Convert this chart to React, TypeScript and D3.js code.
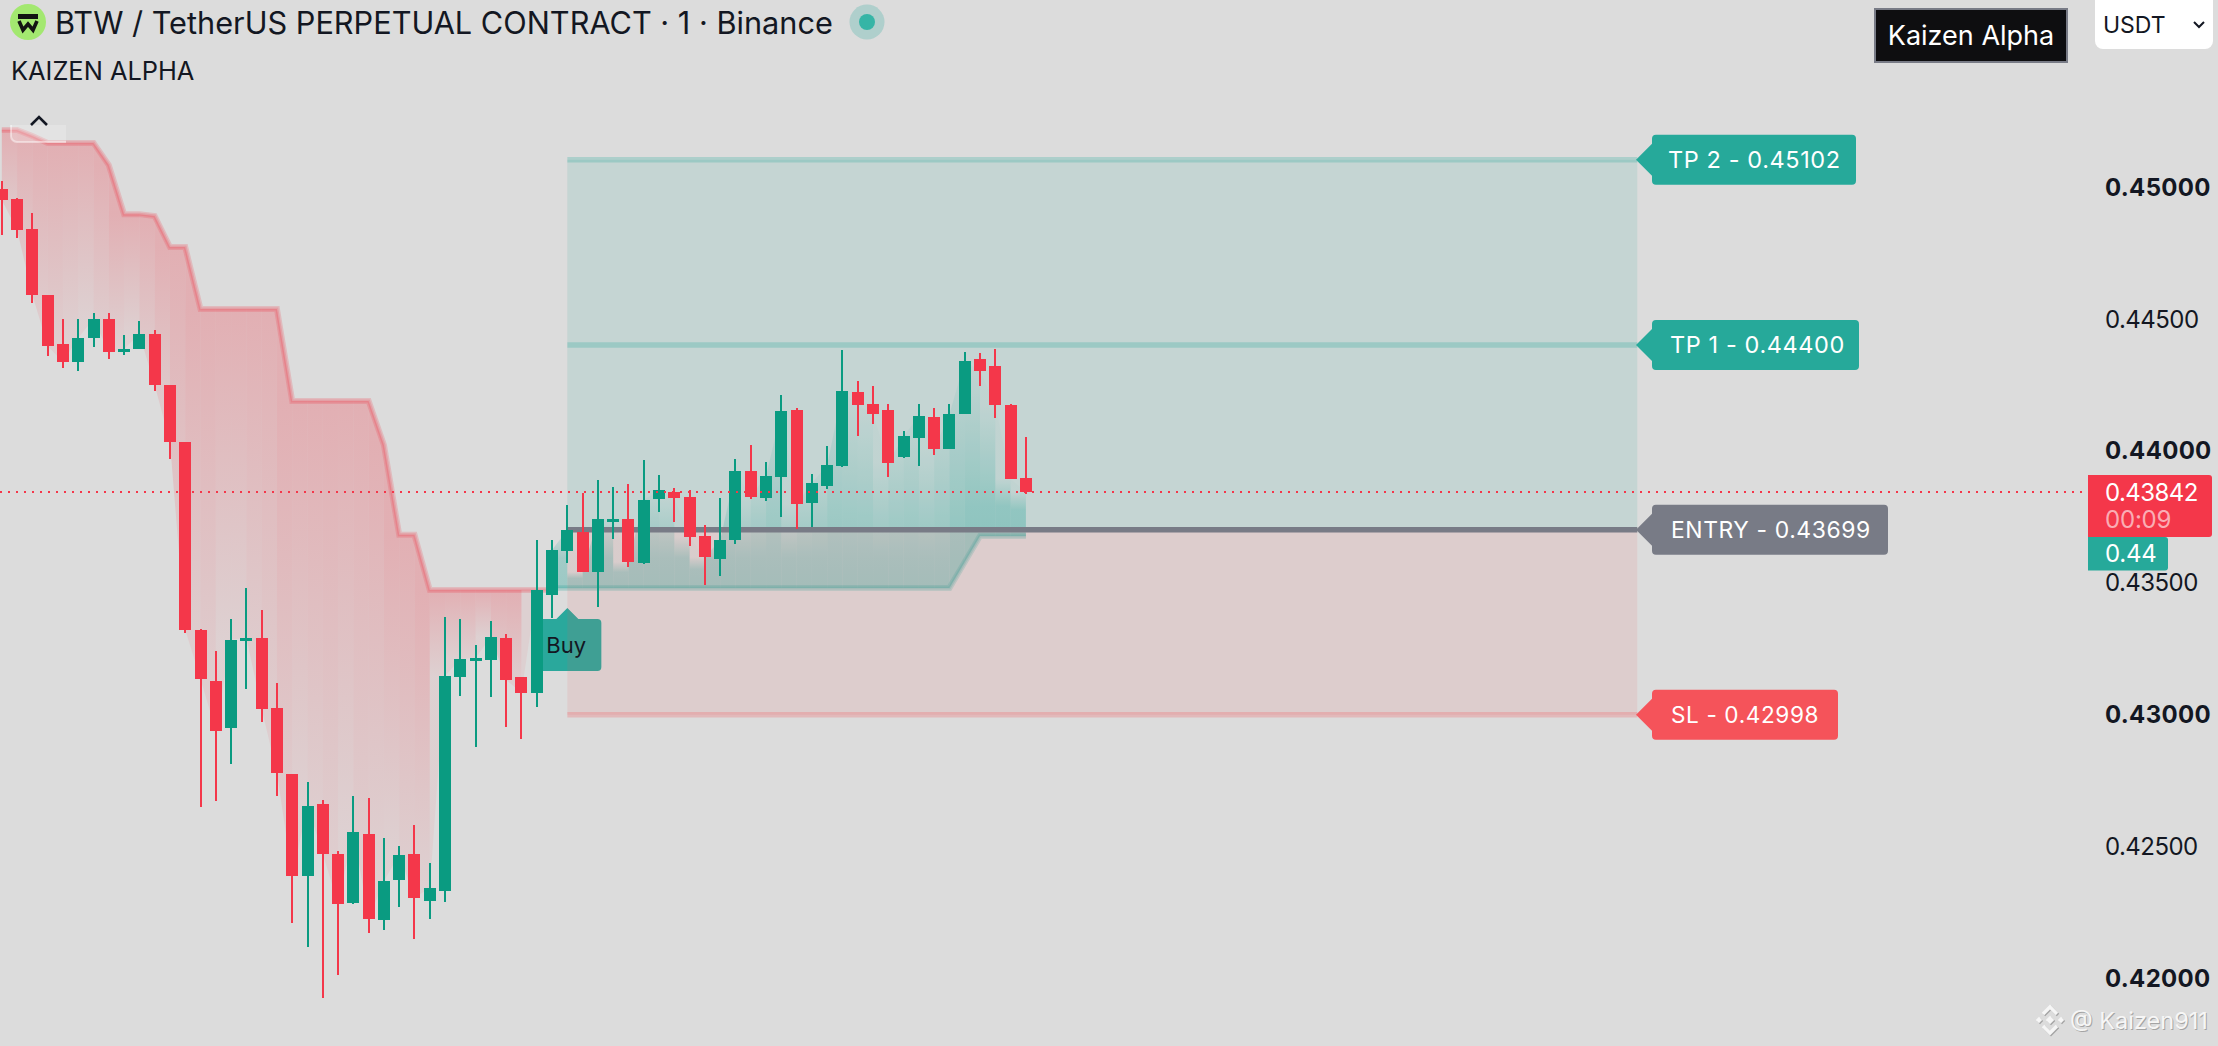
import { useEffect, useRef } from 'react';
import * as d3 from 'd3';

const opens = [
    0.44991, 0.44953, 0.4484, 0.44589, 0.44404, 0.44335, 0.44426, 0.44498, 0.44377, 0.44385,
    0.44442, 0.44248, 0.44032, 0.4332, 0.43126, 0.42948, 0.43278, 0.43289, 0.43024, 0.42774,
    0.42387, 0.4266, 0.4247, 0.42285, 0.42546, 0.4222, 0.42372, 0.4247, 0.42292, 0.4233,
    0.43141, 0.43206, 0.43206, 0.43289, 0.43141, 0.43081, 0.43452, 0.43619, 0.43691, 0.43539,
    0.43729, 0.4374, 0.43574, 0.43816, 0.43843, 0.43824, 0.43676, 0.43589, 0.43661, 0.43922,
    0.4382, 0.439, 0.44153, 0.43801, 0.43865, 0.43941, 0.44222, 0.44176, 0.44153, 0.43975,
    0.44047, 0.44127, 0.44006, 0.44138, 0.44347, 0.4432, 0.44172, 0.43896,
];
const highs = [
    0.45022, 0.44957, 0.449, 0.44589, 0.44498, 0.44498, 0.44521, 0.44521, 0.44438, 0.44491,
    0.44457, 0.44248, 0.44032, 0.43323, 0.4324, 0.43361, 0.43479, 0.43395, 0.43118, 0.42774,
    0.42743, 0.42675, 0.42482, 0.4269, 0.42683, 0.42531, 0.42501, 0.4258, 0.42436, 0.43369,
    0.43361, 0.43263, 0.43354, 0.43304, 0.43141, 0.43661, 0.43661, 0.43793, 0.43839, 0.43888,
    0.43862, 0.43873, 0.43964, 0.43907, 0.43858, 0.4385, 0.43718, 0.4382, 0.43968, 0.44021,
    0.43956, 0.4421, 0.44161, 0.43911, 0.44017, 0.44381, 0.44263, 0.44244, 0.44176, 0.44074,
    0.44176, 0.44161, 0.44176, 0.44373, 0.4437, 0.44385, 0.44176, 0.44051,
];
const lows = [
    0.44817, 0.44805, 0.44559, 0.44358, 0.44313, 0.44301, 0.44392, 0.44347, 0.44362, 0.44385,
    0.44226, 0.43968, 0.43308, 0.42648, 0.42671, 0.42811, 0.43096, 0.42971, 0.4269, 0.42209,
    0.42118, 0.41924, 0.42012, 0.42281, 0.42171, 0.42182, 0.42269, 0.42148, 0.42224, 0.42288,
    0.43069, 0.42876, 0.43065, 0.42952, 0.42906, 0.43028, 0.43365, 0.43574, 0.43539, 0.43407,
    0.43665, 0.43558, 0.4357, 0.43767, 0.43729, 0.43638, 0.4349, 0.43524, 0.43646, 0.43816,
    0.43808, 0.43748, 0.43702, 0.4371, 0.43854, 0.43937, 0.44055, 0.441, 0.439, 0.43972,
    0.43941, 0.43983, 0.44006, 0.44138, 0.44244, 0.44123, 0.43892, 0.43835,
];
const closes = [
    0.4495, 0.44836, 0.44589, 0.44396, 0.44335, 0.44426, 0.44498, 0.44373, 0.44385, 0.44442,
    0.44248, 0.44032, 0.4332, 0.43134, 0.42937, 0.43282, 0.43289, 0.4302, 0.42777, 0.42387,
    0.42652, 0.4247, 0.42281, 0.42554, 0.42224, 0.42368, 0.42467, 0.42304, 0.42341, 0.43145,
    0.43209, 0.43213, 0.43293, 0.4313, 0.43081, 0.43471, 0.43623, 0.43699, 0.43539, 0.4374,
    0.4374, 0.43577, 0.43812, 0.4385, 0.4382, 0.43672, 0.43596, 0.43661, 0.43922, 0.43824,
    0.43903, 0.4415, 0.43797, 0.43877, 0.43945, 0.44226, 0.44172, 0.44138, 0.43953, 0.44055,
    0.44131, 0.44006, 0.44138, 0.44339, 0.44301, 0.44172, 0.43892, 0.43842,
];

// trailing stop, red leg starts at candle 0, green leg at candle 36
const stopDown = [
    0.45215, 0.45215, 0.45192, 0.45166, 0.45166, 0.45166, 0.45166, 0.45082, 0.44896, 0.44896,
    0.44889, 0.44771, 0.44771, 0.44536, 0.44536, 0.44536, 0.44536, 0.44536, 0.44536, 0.44188,
    0.44188, 0.44188, 0.44188, 0.44188, 0.44188, 0.44021, 0.4368, 0.4368, 0.43471, 0.43471,
    0.43471, 0.43471, 0.43471, 0.43471, 0.43471, 0.43471, 0.43471,
];
const stopUp = [
    0.43479, 0.43479, 0.43479, 0.43479, 0.43479, 0.43479, 0.43479, 0.43479, 0.43479, 0.43479,
    0.43479, 0.43479, 0.43479, 0.43479, 0.43479, 0.43479, 0.43479, 0.43479, 0.43479, 0.43479,
    0.43479, 0.43479, 0.43479, 0.43479, 0.43479, 0.43479, 0.43479, 0.43577, 0.43676, 0.43676,
    0.43676, 0.43676,
];
const stopUpStart = 36;

const levelNames = ['TP 2', 'TP 1', 'ENTRY', 'SL'];
const levelPrices = [0.45102, 0.444, 0.43699, 0.42998];
const levelColors = ['#26a99a', '#26a99a', '#787b86', '#f5535a'];
const levelLabelRight = [1856, 1859, 1888, 1838];
const levelLabelText = [1668, 1670, 1671, 1671];
const levelLabelSize = [23.5, 23.5, 22.9, 22.6];

const entryIndex = 37;
const zoneEndIndex = 107;

const priceTicks = [0.45, 0.445, 0.44, 0.435, 0.43, 0.425, 0.42];
const lastPrice = 0.43842;

const GREEN = '#0a9b81';
const RED = '#f4374a';
const TEAL = '#26a69a';
const STOP_RED = '#f23645';

function labelShape(x0: number, y0: number, x1: number, y1: number, tip: number) {
    const r = 4;
    const mid = (y0 + y1) / 2;
    const p = d3.path();
    p.moveTo(x0 + r, y0);
    p.lineTo(x1 - r, y0);
    p.arcTo(x1, y0, x1, y0 + r, r);
    p.lineTo(x1, y1 - r);
    p.arcTo(x1, y1, x1 - r, y1, r);
    p.lineTo(x0 + r, y1);
    p.arcTo(x0, y1, x0, y1 - r, r);
    p.lineTo(x0, mid + 16);
    p.lineTo(tip, mid);
    p.lineTo(x0, mid - 16);
    p.lineTo(x0, y0 + r);
    p.arcTo(x0, y0, x0 + r, y0, r);
    p.closePath();
    return p.toString();
}

export default function App() {
    const svgRef = useRef<SVGSVGElement>(null);

    useEffect(() => {
        if (!svgRef.current) return;
        const svg = d3.select(svgRef.current);
        svg.selectAll('*').remove();

        const x = d3.scaleLinear().domain([0, 67]).range([1.8, 1025.9]);
        const y = d3.scaleLinear().domain([0.42, 0.45]).range([978, 186.7]);
        const font = 'Inter, "Noto Sans", sans-serif';
        const defs = svg.append('defs');

        svg.append('rect').attr('width', 2218).attr('height', 1046).attr('fill', '#dcdcdc');

        // Stop band fills, one gradient per candle step
        const band = d3.area<{ i: number; stop: number }>()
            .x(d => x(d.i))
            .y0(d => y(d.stop))
            .y1(d => y(closes[d.i]));

        const drawFill = (stops: number[], start: number, color: string, from: number, mid: number, to: number, solid: number, id: string, count: number) => {
            for (let k = 0; k < count; k++) {
                const a = { i: start + k, stop: stops[k] };
                const b = { i: start + k + 1, stop: stops[k + 1] };
                const range = Math.abs(y(closes[b.i]) - y(b.stop)) || 1;
                const grad = defs.append('linearGradient')
                    .attr('id', `${id}-${k}`)
                    .attr('gradientUnits', 'userSpaceOnUse')
                    .attr('x1', 0).attr('x2', 0)
                    .attr('y1', y(b.stop))
                    .attr('y2', y(closes[b.i]));
                grad.append('stop').attr('offset', '0%').attr('stop-color', color).attr('stop-opacity', from);
                grad.append('stop').attr('offset', `${Math.min(60, (solid / range) * 100)}%`).attr('stop-color', color).attr('stop-opacity', mid);
                grad.append('stop').attr('offset', '100%').attr('stop-color', color).attr('stop-opacity', to);
                svg.append('path').attr('d', band([a, b])).attr('fill', `url(#${id}-${k})`);
            }
        };
        drawFill(stopDown, 0, STOP_RED, 0.27, 0.27, 0.07, 0, 'down', 35);
        drawFill(stopUp, stopUpStart, TEAL, 0.35, 0.32, 0.03, 30, 'up', stopUp.length - 1);

        // Stop lines
        const stopLine = d3.line<number>().x((_, i) => x(i)).y(d => y(d));
        const stopUpLine = d3.line<number>().x((_, i) => x(i + stopUpStart)).y(d => y(d));
        [[stopLine(stopDown), STOP_RED], [stopUpLine(stopUp), TEAL]].forEach(([d, c]) => {
            svg.append('path').attr('d', d as string).attr('fill', 'none')
                .attr('stroke', c as string).attr('stroke-width', 6).attr('opacity', 0.2);
            svg.append('path').attr('d', d as string).attr('fill', 'none')
                .attr('stroke', c as string).attr('stroke-width', 3).attr('opacity', 0.2);
        });

        // Buy marker sits under the position zones
        const bx = x(entryIndex);
        svg.append('path')
            .attr('d', 'M' + (bx - 34) + ',623 a4,4 0 0 1 4,-4 H' + (bx - 11) + ' L' + bx + ',608 L' + (bx + 11) + ',619 H' + (bx + 30) +
                ' a4,4 0 0 1 4,4 V667 a4,4 0 0 1 -4,4 H' + (bx - 30) + ' a4,4 0 0 1 -4,-4 Z')
            .attr('fill', TEAL).attr('opacity', 0.98);

        // Position zones
        const zx0 = x(entryIndex);
        const zx1 = x(zoneEndIndex);
        svg.append('rect')
            .attr('x', zx0).attr('width', zx1 - zx0)
            .attr('y', y(levelPrices[0])).attr('height', y(levelPrices[2]) - y(levelPrices[0]))
            .attr('fill', TEAL).attr('opacity', 0.125);
        svg.append('rect')
            .attr('x', zx0).attr('width', zx1 - zx0)
            .attr('y', y(levelPrices[2])).attr('height', y(levelPrices[3]) - y(levelPrices[2]))
            .attr('fill', '#ee5a5f').attr('opacity', 0.11);

        levelPrices.forEach((p, i) => {
            const isEntry = levelNames[i] === 'ENTRY';
            svg.append('line')
                .attr('x1', zx0).attr('x2', zx1).attr('y1', y(p)).attr('y2', y(p))
                .attr('stroke', levelColors[i])
                .attr('stroke-width', 5.5)
                .attr('opacity', isEntry ? 1 : 0.25);
            const c = y(p);
            svg.append('path')
                .attr('d', labelShape(1652, c - 25, levelLabelRight[i], c + 25, 1636))
                .attr('fill', levelColors[i]);
            svg.append('text')
                .attr('x', levelLabelText[i]).attr('y', c + 8.5)
                .attr('font-family', font).attr('font-size', levelLabelSize[i]).attr('letter-spacing', 0.6)
                .attr('fill', '#fff')
                .text(`${levelNames[i]} - ${p.toFixed(5)}`);
        });

        // Candles
        const candles = svg.append('g').attr('shape-rendering', 'crispEdges');
        closes.forEach((c, i) => {
            const color = c >= opens[i] ? GREEN : RED;
            const cx = x(i);
            candles.append('rect')
                .attr('x', cx - 1).attr('width', 2)
                .attr('y', y(highs[i])).attr('height', y(lows[i]) - y(highs[i]))
                .attr('fill', color);
            const top = y(Math.max(c, opens[i]));
            const bot = y(Math.min(c, opens[i]));
            candles.append('rect')
                .attr('x', cx - 6).attr('width', 12)
                .attr('y', top).attr('height', Math.max(bot - top, 3))
                .attr('fill', color);
        });

        svg.append('text')
            .attr('x', bx - 21).attr('y', 653)
            .attr('font-family', font).attr('font-size', 22).attr('fill', '#131722')
            .text('Buy');

        // Last price line
        svg.append('line')
            .attr('x1', 0).attr('x2', 2084).attr('y1', y(lastPrice)).attr('y2', y(lastPrice))
            .attr('stroke', RED).attr('stroke-width', 2).attr('stroke-dasharray', '2 6')
            .attr('shape-rendering', 'crispEdges');

        // Price axis
        priceTicks.forEach(t => {
            const major = Math.abs(t * 100 - Math.round(t * 100)) < 1e-6;
            svg.append('text')
                .attr('x', 2105).attr('y', y(t) + 9)
                .attr('font-family', font).attr('font-size', 24)
                .attr('font-weight', major ? 700 : 400)
                .attr('letter-spacing', major ? 0.3 : -0.55)
                .attr('fill', '#131722')
                .text(t.toFixed(5));
        });

        // Price badges
        svg.append('path').attr('d', 'M2088,475 H2209 a3,3 0 0 1 3,3 V534 a3,3 0 0 1 -3,3 H2088 Z').attr('fill', RED);
        svg.append('path').attr('d', 'M2088,537 H2165 a3,3 0 0 1 3,3 V567.5 a3,3 0 0 1 -3,3 H2088 Z').attr('fill', '#26a99a');
        svg.append('text').attr('x', 2105).attr('y', y(lastPrice) + 8.5)
            .attr('font-family', font).attr('font-size', 24).attr('letter-spacing', -0.55).attr('fill', '#fff')
            .text(lastPrice.toFixed(5));
        svg.append('text').attr('x', 2105).attr('y', 528)
            .attr('font-family', font).attr('font-size', 24).attr('letter-spacing', -0.2)
            .attr('fill', '#fff').attr('fill-opacity', 0.6)
            .text('00:09');
        svg.append('text').attr('x', 2105).attr('y', 562)
            .attr('font-family', font).attr('font-size', 24).attr('letter-spacing', -0.2).attr('fill', '#fff')
            .text('0.44');

        // Header
        svg.append('circle').attr('cx', 28).attr('cy', 22).attr('r', 18).attr('fill', '#a3e870');
        svg.append('rect').attr('x', 18).attr('y', 14).attr('width', 20).attr('height', 5).attr('fill', '#131313');
        svg.append('path').attr('d', 'M19,21 L23,30 L28,24 L33,30 L37,21')
            .attr('fill', 'none').attr('stroke', '#131313').attr('stroke-width', 3.6);
        svg.append('text').attr('x', 55).attr('y', 34)
            .attr('font-family', font).attr('font-size', 30.7).attr('fill', '#131722')
            .text('BTW / TetherUS PERPETUAL CONTRACT · 1 · Binance');
        svg.append('circle').attr('cx', 867).attr('cy', 22).attr('r', 17.5).attr('fill', TEAL).attr('opacity', 0.25);
        svg.append('circle').attr('cx', 867).attr('cy', 22).attr('r', 8).attr('fill', '#35b5a6');
        svg.append('text').attr('x', 11).attr('y', 80)
            .attr('font-family', font).attr('font-size', 25.4).attr('fill', '#131722')
            .text('KAIZEN ALPHA');

        // Collapse button
        svg.append('path').attr('d', 'M11,125 H66 V142 H17 a6,6 0 0 1 -6,-6 Z')
            .attr('fill', '#fff').attr('opacity', 0.22);
        svg.append('path').attr('d', 'M11,125 V136 a6,6 0 0 0 6,6 H66')
            .attr('fill', 'none')
            .attr('stroke', '#fff').attr('stroke-opacity', 0.45).attr('stroke-width', 2);
        svg.append('path').attr('d', 'M31,125 L39,117 L47,125')
            .attr('fill', 'none').attr('stroke', '#131722').attr('stroke-width', 2.6);

        // Indicator button and currency select
        svg.append('rect').attr('x', 1875).attr('y', 9).attr('width', 192).attr('height', 53)
            .attr('fill', '#0e0e10').attr('stroke', '#787b86').attr('stroke-width', 2);
        svg.append('text').attr('x', 1971).attr('y', 45).attr('text-anchor', 'middle')
            .attr('font-family', font).attr('font-size', 27).attr('fill', '#fff')
            .text('Kaizen Alpha');
        svg.append('path').attr('d', 'M2095,0 H2213 V41 a8,8 0 0 1 -8,8 H2103 a8,8 0 0 1 -8,-8 Z').attr('fill', '#fff');
        svg.append('text').attr('x', 2103).attr('y', 33)
            .attr('font-family', font).attr('font-size', 23).attr('fill', '#131722')
            .text('USDT');
        svg.append('path').attr('d', 'M2194,22 L2199,27 L2204,22')
            .attr('fill', 'none').attr('stroke', '#131722').attr('stroke-width', 2);

        // Watermark, grey copy underneath gives the embossed look
        [['#a4a4a4', 1, 1], ['#f6f6f6', 0, 0]].forEach(([color, ox, oy]) => {
            const c = color as string;
            const mark = svg.append('g')
                .attr('transform', `translate(${2050 + (ox as number)},${1020 + (oy as number)})`);
            ['M-7,-6 L0,-13 L7,-6', 'M-7,6 L0,13 L7,6'].forEach(d => {
                mark.append('path').attr('d', d).attr('fill', 'none').attr('stroke', c).attr('stroke-width', 3.4);
            });
            [[-11, 0, 4.5], [11, 0, 4.5], [0, 0, 6]].forEach(([dx, dy, s]) => {
                mark.append('rect')
                    .attr('x', -s / 2).attr('y', -s / 2).attr('width', s).attr('height', s)
                    .attr('fill', c)
                    .attr('transform', `translate(${dx},${dy}) rotate(45)`);
            });
            svg.append('text').attr('x', 2070 + (ox as number)).attr('y', 1029 + (oy as number))
                .attr('font-family', font).attr('font-size', 23.5).attr('fill', c)
                .text('@ Kaizen911');
        });
    }, []);

    return (
        <svg ref={svgRef} width={2218} height={1046} style={{ position: 'fixed', left: 0, top: 0 }} />
    );
}
